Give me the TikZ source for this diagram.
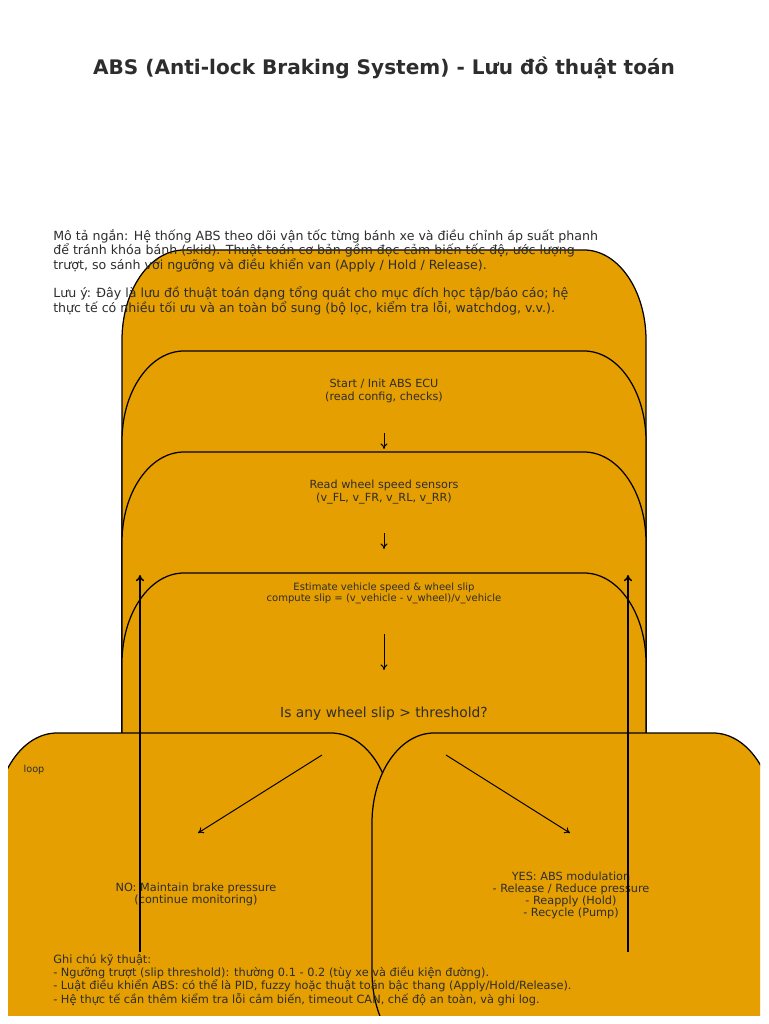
\documentclass[tikz,border=0pt]{standalone}
\usepackage{fontspec}
\setmainfont{DejaVu Sans}
\usepackage{xcolor}
\usetikzlibrary{positioning,arrows.meta}
\definecolor{absorange}{RGB}{230,159,0}
\definecolor{txtgray}{RGB}{45,45,45}
\tikzset{
	flowbox/.style={draw=black,line width=0.9pt,fill=absorange},
	flowtxt/.style={text=txtgray,align=center,inner sep=0pt},
	flowarr/.style={-{To[length=4pt,width=5pt]},line width=0.7pt},
	looparr/.style={-{To[length=4.5pt,width=6pt]},line width=1.1pt}
}
% box with elliptic corners, given top left and bottom right in pixels (y down)
\newcommand{\ovalrect}[4]{%
	\draw[flowbox] (#1,-#2-90) arc[start angle=180,end angle=90,x radius=62,y radius=90]
		-- (#3-62,-#2) arc[start angle=90,end angle=0,x radius=62,y radius=90]
		-- (#3,-#4+90) arc[start angle=0,end angle=-90,x radius=62,y radius=90]
		-- (#1+62,-#4) arc[start angle=-90,end angle=-180,x radius=62,y radius=90] -- cycle;}
\begin{document}
\begin{tikzpicture}[x=0.01in,y=0.01in]
	\useasboundingbox[fill=white] (0,0) rectangle (768,-1024);
	\path (384,-68) node(title)[flowtxt,font=\bfseries\fontsize{14.5}{17}\selectfont]{ABS (Anti-lock Braking System) - Lưu đồ thuật toán};
	\begin{scope}
		\clip (8,-8) rectangle (760,-1015);
		\ovalrect{122}{250}{646}{1000}
		\ovalrect{122}{351}{646}{1000}
		\ovalrect{122}{452}{646}{1000}
		\ovalrect{122}{573}{646}{1000}
		\ovalrect{-5}{733}{393}{1062}
		\ovalrect{372}{733}{775}{1062}
	\end{scope}
	\path (53,-229) node(desc)[flowtxt,anchor=north west,align=left,font=\fontsize{9.1}{10.4}\selectfont]{Mô tả ngắn: Hệ thống ABS theo dõi vận tốc từng bánh xe và điều chỉnh áp suất phanh\\để tránh khóa bánh (skid). Thuật toán cơ bản gồm đọc cảm biến tốc độ, ước lượng\\trượt, so sánh với ngưỡng và điều khiển van (Apply / Hold / Release).\\[10.4pt]Lưu ý: Đây là lưu đồ thuật toán dạng tổng quát cho mục đích học tập/báo cáo; hệ\\thực tế có nhiều tối ưu và an toàn bổ sung (bộ lọc, kiểm tra lỗi, watchdog, v.v.).};
	\path (384,-391) node(start)[flowtxt,font=\fontsize{8.1}{9.4}\selectfont]{Start / Init ABS ECU\\(read config, checks)};
	\path (384,-492) node(read)[flowtxt,font=\fontsize{8.1}{9.4}\selectfont]{Read wheel speed sensors\\(v\_FL, v\_FR, v\_RL, v\_RR)};
	\path (384,-593) node(est)[flowtxt,font=\fontsize{7.25}{7.9}\selectfont]{Estimate vehicle speed \& wheel slip\\compute slip = (v\_vehicle - v\_wheel)/v\_vehicle};
	\path (384,-714) node(dec)[flowtxt,font=\fontsize{10}{11}\selectfont]{Is any wheel slip > threshold?};
	\path (196,-894) node(no)[flowtxt,font=\fontsize{8.15}{8.7}\selectfont]{NO: Maintain brake pressure\\(continue monitoring)};
	\path (571,-895) node(yes)[flowtxt,font=\fontsize{8.15}{8.7}\selectfont]{YES: ABS modulation\\- Release / Reduce pressure\\- Reapply (Hold)\\- Recycle (Pump)};
	\path (34,-770) node(loop)[flowtxt,font=\fontsize{7}{8}\selectfont]{loop};
	\path (53,-954) node(notes)[flowtxt,anchor=north west,align=left,font=\fontsize{8.2}{9.6}\selectfont]{Ghi chú kỹ thuật:\\- Ngưỡng trượt (slip threshold): thường 0.1 - 0.2 (tùy xe và điều kiện đường).\\- Luật điều khiển ABS: có thể là PID, fuzzy hoặc thuật toán bậc thang (Apply/Hold/Release).\\- Hệ thực tế cần thêm kiểm tra lỗi cảm biến, timeout CAN, chế độ an toàn, và ghi log.};
	\coordinate (a1) at (384,-433); \coordinate (b1) at (384,-449);
	\coordinate (a2) at (384,-533); \coordinate (b2) at (384,-549);
	\coordinate (a3) at (384,-634); \coordinate (b3) at (384,-670);
	\coordinate (dl) at (322,-755); \coordinate (nl) at (198,-833);
	\coordinate (dr) at (446,-755); \coordinate (yr) at (570,-833);
	\coordinate (la) at (140,-952); \coordinate (lb) at (140,-575);
	\coordinate (ra) at (628,-952); \coordinate (rb) at (628,-575);
	\draw[flowarr] (a1)--(b1);
	\draw[flowarr] (a2)--(b2);
	\draw[flowarr] (a3)--(b3);
	\draw[flowarr] (dl)--(nl);
	\draw[flowarr] (dr)--(yr);
	\draw[looparr] (la)--(lb);
	\draw[looparr] (ra)--(rb);
\end{tikzpicture}
\end{document}
